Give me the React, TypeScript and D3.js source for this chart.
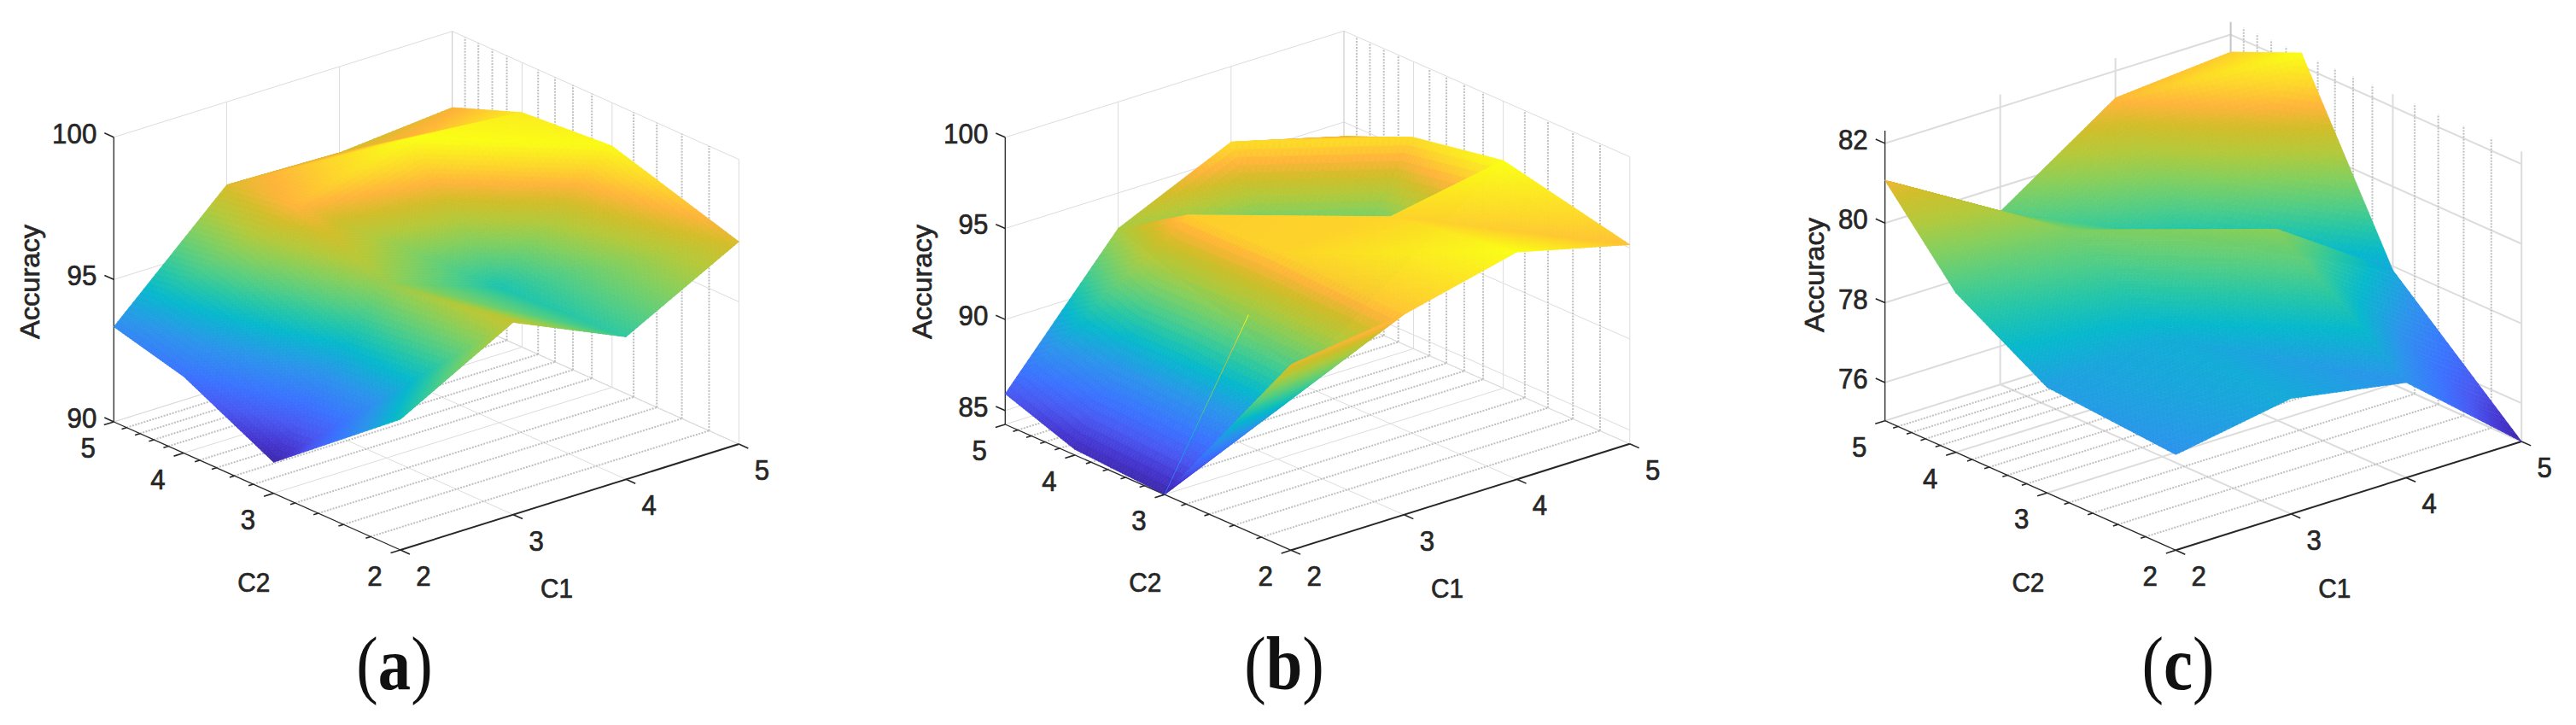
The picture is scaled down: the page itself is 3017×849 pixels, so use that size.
import React, { useEffect, useRef } from "react";
import * as d3 from "d3";

const c1Values = [2, 3, 4, 5];
const c2Values = [2, 3, 4, 5];
const c2MinorTicks = [2.2, 2.4, 2.6, 2.8, 3.2, 3.4, 3.6, 3.8, 4.2, 4.4, 4.6, 4.8];

// rows: C2 = 2,3,4,5 ; columns: C1 = 2,3,4,5
const accuracyA = [
  [94.59, 96.76, 95.01, 97.11],
  [91.09, 96.17, 94.77, 98.48],
  [92.69, 97.5, 98.56, 98.24],
  [93.34, 97.08, 96.97, 97.32],
];
const accuracyB = [
  [94.44, 95.24, 96.72, 95.18],
  [84.24, 95.56, 95.6, 96.74],
  [84.55, 95.47, 84.8, 95.84],
  [85.92, 93.05, 95.85, 94.2],
];
const accuracyC = [
  [77.44, 77.94, 77.43, 75.04],
  [77.69, 78.0, 79.83, 77.9],
  [79.04, 79.71, 78.6, 82.33],
  [81.07, 79.38, 81.32, 81.56],
];

const zTicksA = [90, 95, 100];
const zTicksB = [85, 90, 95, 100];
const zTicksC = [76, 78, 80, 82];

const colorStops = [0, 0.06, 0.14, 0.22, 0.33, 0.44, 0.51, 0.57, 0.65, 0.72, 0.79, 0.85, 0.91, 1];
const colorValues = ["#3b28a8", "#4534cf", "#4858f2", "#3a72ff", "#2b93ec", "#05b8cc", "#25c6a6", "#4fcd86", "#84cf5c", "#b2c93a", "#d2bd28", "#ffb43a", "#fdd52a", "#faff14"];

const panels = [
  { data: accuracyA, zTicks: zTicksA, zLim: [90, 100], origin: [469, 644], vx: [396.4, -124], vy: [-335.7, -150], kz: 33.33, caption: "a", capX: 462, gridW: 1, accX: 35, accY: 330, c2Dx: 164, c1Dx: 183, seam: false },
  { data: accuracyB, zTicks: zTicksB, zLim: [84.24, 100], origin: [1512.1, 644.3], vx: [396.7, -124.5], vy: [-334.8, -147.3], kz: 21.33, caption: "b", capX: 1504, gridW: 1, accX: 1080, accY: 330, c2Dx: 164, c1Dx: 183, seam: true },
  { data: accuracyC, zTicks: zTicksC, zLim: [75.04, 82.32], origin: [2548.3, 644.3], vx: [404.9, -127.3], vy: [-340.6, -151.6], kz: 46.67, caption: "c", capX: 2551, gridW: 2, accX: 2125.4, accY: 322, c2Dx: 167.7, c1Dx: 186, seam: false },
];

const INK = "#262626";
const SUB = 30;

function drawPanel(root: any, p: any) {
  const u = d3.scaleLinear().domain([2, 5]).range([0, 1]);
  const t = d3.scaleLog().domain([2, 5]).range([0, 1]);
  const zs = d3.scaleLinear().domain(p.zLim).range([0, (p.zLim[1] - p.zLim[0]) * p.kz]);
  const project = (a: number, b: number, h: number): [number, number] => [
    p.origin[0] + a * p.vx[0] + b * p.vy[0],
    p.origin[1] + a * p.vx[1] + b * p.vy[1] - h,
  ];
  const P = (c1: number, c2: number, z: number) => project(u(c1), t(c2), zs(z));
  const lineGen = d3.line();

  // depth from the orthographic view implied by the two floor axes
  const prod = -(p.vx[0] * p.vy[0] + p.vx[1] * p.vy[1]);
  const ratio = p.vx[1] / p.vy[1];
  const dx = Math.sqrt(prod * ratio);
  const dy = Math.sqrt(prod / ratio);
  const dh = p.vx[1] / dx; // negative: higher is nearer
  const depth = (a: number, b: number, h: number) => a * dx + b * dy + h * dh;

  const g = root.append("g");
  const [zMin, zMax] = p.zLim;
  const solid = (pts: [number, number][], col = "#dcdcdc", w = p.gridW) =>
    g.append("path").attr("d", lineGen(pts)).attr("fill", "none").attr("stroke", col).attr("stroke-width", w);
  const dotted = (pts: [number, number][]) =>
    g.append("path").attr("d", lineGen(pts)).attr("fill", "none").attr("stroke", "#c0c0c0").attr("stroke-width", 2).attr("stroke-dasharray", "2 1.5");

  // walls and floor
  p.zTicks.forEach((z: number) => {
    solid([P(2, 5, z), P(5, 5, z)]);
    solid([P(5, 5, z), P(5, 2, z)]);
  });
  solid([P(2, 5, zMin), P(5, 5, zMin)]);
  solid([P(5, 5, zMin), P(5, 2, zMin)]);
  c1Values.slice(1).forEach((c1) => {
    solid([P(c1, 5, zMin), P(c1, 5, zMax)], c1 === 5 ? "#c4c4c4" : "#dcdcdc");
    solid([P(c1, 2, zMin), P(c1, 5, zMin)]);
  });
  c2Values.slice(0, 3).forEach((c2) => {
    solid([P(5, c2, zMin), P(5, c2, zMax)]);
    if (c2 > 2) solid([P(2, c2, zMin), P(5, c2, zMin)]);
  });
  c2MinorTicks.forEach((c2) => {
    dotted([P(5, c2, zMin), P(5, c2, zMax)]);
    dotted([P(2, c2, zMin), P(5, c2, zMin)]);
  });

  // axis lines and ticks
  const ink = (pts: [number, number][], w = 1) =>
    g.append("path").attr("d", lineGen(pts)).attr("fill", "none").attr("stroke", INK).attr("stroke-width", w);
  ink([P(2, 2, zMin), P(5, 2, zMin)], 2);
  ink([P(2, 2, zMin), P(2, 5, zMin)], 1.3);
  ink([P(2, 5, zMin), P(2, 5, zMax)], 1.3);
  const vxLen = Math.hypot(p.vx[0], p.vx[1]);
  const vyLen = Math.hypot(p.vy[0], p.vy[1]);
  const tick = (from: [number, number], v: number[], vLen: number, sign: number, len: number) =>
    ink([from, [from[0] + (sign * v[0] * len) / vLen, from[1] + (sign * v[1] * len) / vLen]], 1.6);
  c1Values.forEach((c1) => tick(P(c1, 2, zMin), p.vy, vyLen, -1, 12));
  c2Values.forEach((c2) => tick(P(2, c2, zMin), p.vx, vxLen, -1, 12));
  c2MinorTicks.forEach((c2) => tick(P(2, c2, zMin), p.vx, vxLen, -1, 6));
  p.zTicks.forEach((z: number) => tick(P(2, 5, z), p.vy, vyLen, 1, 12));

  // surface: every grid cell is two triangles, diced so the colour runs smoothly across them
  const allZ = p.data.flat();
  const unit = d3.scaleLinear().domain(d3.extent(allZ) as [number, number]).range([0, 1]);
  const cmap = d3.scaleLinear<string>().domain(colorStops).range(colorValues).interpolate(d3.interpolateRgb).clamp(true);
  const vert = (i: number, j: number) => ({ a: u(c1Values[i]), b: t(c2Values[j]), z: p.data[j][i] });
  const tris: any[] = [];
  for (let j = 0; j < 3; j++) {
    for (let i = 0; i < 3; i++) {
      tris.push([vert(i, j), vert(i + 1, j), vert(i, j + 1)]);
      tris.push([vert(i + 1, j), vert(i + 1, j + 1), vert(i, j + 1)]);
    }
  }
  const bary = (T: any[], l0: number, l1: number) => {
    const l2 = 1 - l0 - l1;
    return {
      a: T[0].a * l0 + T[1].a * l1 + T[2].a * l2,
      b: T[0].b * l0 + T[1].b * l1 + T[2].b * l2,
      z: T[0].z * l0 + T[1].z * l1 + T[2].z * l2,
    };
  };
  const pieces: any[] = [];
  tris.forEach((T) => {
    for (let m = 0; m < SUB; m++) {
      for (let n = 0; n < SUB - m; n++) {
        const add = (q: any[]) => {
          const zm = (q[0].z + q[1].z + q[2].z) / 3;
          const am = (q[0].a + q[1].a + q[2].a) / 3;
          const bm = (q[0].b + q[1].b + q[2].b) / 3;
          pieces.push({
            d: lineGen(q.map((v) => project(v.a, v.b, zs(v.z)))) + "Z",
            col: cmap(unit(zm)),
            depth: depth(am, bm, zs(zm)),
          });
        };
        const A = bary(T, m / SUB, n / SUB);
        const B = bary(T, (m + 1) / SUB, n / SUB);
        const C = bary(T, m / SUB, (n + 1) / SUB);
        add([A, B, C]);
        if (m + n < SUB - 1) {
          const D = bary(T, (m + 1) / SUB, (n + 1) / SUB);
          add([B, D, C]);
        }
      }
    }
  });
  pieces.sort((q, r) => r.depth - q.depth);
  g.append("g")
    .selectAll("path")
    .data(pieces)
    .join("path")
    .attr("d", (q: any) => q.d)
    .attr("fill", (q: any) => q.col)
    .attr("stroke", (q: any) => q.col)
    .attr("stroke-width", 0.7)
    .attr("stroke-linejoin", "round");

  // hairline seam along one mesh edge in panel (b)
  if (p.seam) {
    const A = vert(0, 1);
    const B = vert(1, 1);
    const steps = d3.range(0, 24);
    steps.forEach((s) => {
      const f0 = (s / 24) * 0.744;
      const f1 = ((s + 1) / 24) * 0.744;
      const pt = (f: number) => project(A.a + (B.a - A.a) * f, A.b + (B.b - A.b) * f, zs(A.z + (B.z - A.z) * f));
      g.append("path").attr("d", lineGen([pt(f0), pt(f1)])).attr("stroke", cmap(0.2 + (0.8 * s) / 23)).attr("stroke-width", 0.9).attr("fill", "none");
    });
  }

  // text
  const text = (str: string, x: number, y: number, size: number, sx: number, anchor = "middle", rot = 0) =>
    g.append("text")
      .attr("transform", `translate(${x},${y}) rotate(${rot}) scale(${sx},1)`)
      .attr("text-anchor", anchor)
      .attr("font-family", "'Liberation Sans', Arial, sans-serif")
      .attr("font-size", size)
      .attr("fill", INK)
      .attr("stroke", INK)
      .attr("stroke-width", 0.7)
      .text(str);
  p.zTicks.forEach((z: number) => {
    const [x, y] = P(2, 5, z);
    text(String(z), x - 20, y - 5 + 12, 34, 0.92, "end");
  });
  c1Values.forEach((c1) => {
    const [x, y] = P(c1, 2, zMin);
    text(String(c1), x + 27, y + 30 + 12, 34, 0.92);
  });
  c2Values.forEach((c2) => {
    const [x, y] = P(2, c2, zMin);
    text(String(c2), x - 30, y + 30 + 12, 34, 0.92);
  });
  const axisX = P(2, 5, zMin)[0];
  text("C1", p.origin[0] + p.c1Dx, 688 + 11.5, 32, 0.93);
  text("C2", axisX + p.c2Dx, 681 + 11.5, 32, 0.93);
  text("Accuracy", p.accX + 11, p.accY, 32, 1.02, "middle", -90);

  // caption
  const cap = g.append("text")
    .attr("transform", `translate(${p.capX},807) scale(0.87,1)`)
    .attr("text-anchor", "middle")
    .attr("font-family", "'Liberation Serif', serif")
    .attr("font-size", 88)
    .attr("fill", "#111");
  cap.append("tspan").text("(");
  cap.append("tspan").attr("font-weight", "bold").text(p.caption);
  cap.append("tspan").text(")");
}

export default function App() {
  const ref = useRef<SVGSVGElement | null>(null);
  useEffect(() => {
    const root = d3.select(ref.current);
    root.selectAll("*").remove();
    panels.forEach((p) => drawPanel(root, p));
  }, []);
  return (
    <svg
      ref={ref}
      width={3017}
      height={849}
      viewBox="0 0 3017 849"
      style={{ position: "absolute", left: 0, top: 0, background: "#fff", display: "block" }}
    />
  );
}
